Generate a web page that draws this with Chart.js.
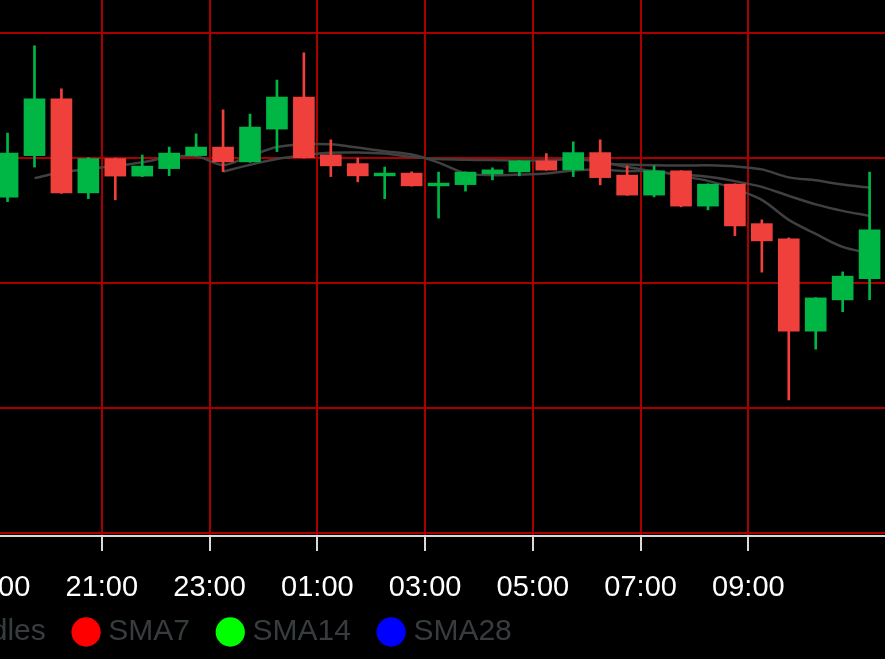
<!DOCTYPE html>
<html>
<head>
<meta charset="utf-8">
<script src="https://cdn.jsdelivr.net/npm/chart.js@4.4.1/dist/chart.umd.min.js"></script>
<style>
html, body { margin:0; padding:0; background:#000; overflow:hidden; width:885px; height:659px; }
#wrap { position:absolute; left:-492px; top:-110px; width:1402px; height:767px; }
</style>
</head>
<body>
<div id="wrap"><canvas id="c"></canvas></div>
<script>
const times = ["19:15","19:45","20:15","20:45","21:15","21:45","22:15","22:45","23:15","23:45",
  "00:15","00:45","01:15","01:45","02:15","02:45","03:15","03:45","04:15","04:45",
  "05:15","05:45","06:15","06:45","07:15","07:45","08:15","08:45","09:15","09:45",
  "10:15","10:45","11:15"];
const opens  = [2434.4,2451.0,2473.7,2436.1,2449.8,2442.8,2445.8,2451.0,2454.4,2448.5,
  2461.6,2474.4,2451.3,2447.8,2442.9,2444.0,2438.9,2439.4,2443.7,2444.5,
  2448.9,2445.3,2452.2,2443.2,2435.2,2444.9,2430.8,2439.6,2423.8,2417.7,
  2380.8,2393.3,2401.8];
const highs  = [2460.0,2494.9,2477.7,2450.2,2450.0,2451.2,2454.4,2459.7,2469.3,2467.6,
  2481.2,2492.1,2457.3,2450.0,2446.4,2444.5,2444.4,2444.5,2446.1,2449.0,
  2451.8,2456.5,2457.3,2446.9,2446.9,2445.0,2439.7,2439.7,2425.3,2418.1,
  2394.2,2404.5,2444.4];
const lows   = [2432.6,2446.4,2435.9,2433.8,2433.3,2442.6,2443.0,2450.8,2444.6,2448.3,
  2452.6,2450.0,2442.6,2440.5,2433.8,2438.8,2426.0,2436.8,2441.3,2442.9,
  2445.1,2442.6,2439.3,2435.1,2434.5,2430.5,2429.3,2419.0,2404.4,2353.3,
  2373.6,2388.6,2393.4];
const closes = [2452.0,2473.7,2436.1,2449.8,2442.8,2446.8,2452.0,2454.4,2448.5,2462.4,
  2474.4,2450.2,2446.9,2442.9,2444.0,2438.9,2440.0,2444.4,2445.3,2448.9,
  2445.2,2452.2,2442.2,2435.2,2444.9,2430.8,2439.6,2422.9,2416.9,2380.8,
  2394.1,2402.8,2421.3];
const sma7  = [null,2442.0,2444.3,2445.7,2446.8,2448.3,2450.3,2450.8,2447.2,2450.9,
  2454.4,2455.5,2455.5,2454.2,2452.7,2451.4,2448.2,2443.9,2443.2,2443.4,
  2443.8,2445.0,2445.4,2444.8,2444.8,2442.8,2440.9,2437.7,2433.3,2425.3,
  2419.7,2414.5,2411.9];
const sma14 = [null,null,null,null,null,null,null,null,2444.6,2447.3,
  2449.6,2451.1,2452.1,2452.2,2451.8,2450.5,2449.6,2449.3,2449.2,2449.0,
  2449.1,2449.5,2448.5,2446.5,2444.7,2443.5,2442.5,2440.8,2438.5,2434.9,
  2431.5,2428.9,2426.9];
const sma28 = [null,null,null,null,null,null,null,null,null,null,
  null,null,null,null,null,null,null,null,null,null,
  null,null,2447.7,2447.4,2447.1,2447.0,2447.1,2446.7,2445.5,2442.3,
  2441.1,2439.4,2438.2];
const xTickLabels = ["13:00","15:00","17:00","19:00","21:00","23:00","01:00","03:00","05:00","07:00","09:00"];
const yTicks = [2300,2350,2400,2450,2500,2550];
const legendNames = ["Candles","SMA7","SMA14","SMA28"];
const legendColors = ["#00B746","#ff0000","#00ff00","#0000ff"];

const UP = "#00B746", DOWN = "#EF403C", GRID = "#a80000", AXIS = "#d9d9d9", LINE = "#404040";
const FONT = "'Liberation Sans', Arial, Helvetica, sans-serif";

function toHours(s) {
  const [h, m] = s.split(":").map(Number);
  let v = h + m / 60;
  if (h < 12) v += 24;
  return v;
}
const xs = times.map(toHours);
const xTickValues = xTickLabels.map(toHours);
const candleColor = (ctx) => closes[ctx.dataIndex] >= opens[ctx.dataIndex] ? UP : DOWN;
const series = (arr) => arr.map((v, i) => ({ x: xs[i], y: v })).filter(p => p.y !== null);

new Chart(document.getElementById("c"), {
  type: "bar",
  data: {
    datasets: [
      { label: "Candles", data: xs.map((x, i) => ({ x, y: [opens[i], closes[i]] })),
        backgroundColor: candleColor, borderWidth: 0, barThickness: 21, grouped: false, order: 0 },
      { type: "line", label: "SMA7", data: series(sma7), borderColor: LINE, backgroundColor: legendColors[1],
        borderWidth: 2.5, pointRadius: 0, tension: 0.3, fill: false, order: 1 },
      { type: "line", label: "SMA14", data: series(sma14), borderColor: LINE, backgroundColor: legendColors[2],
        borderWidth: 2.5, pointRadius: 0, tension: 0.3, fill: false, order: 1 },
      { type: "line", label: "SMA28", data: series(sma28), borderColor: LINE, backgroundColor: legendColors[3],
        borderWidth: 2.5, pointRadius: 0, tension: 0.3, fill: false, order: 1 },
      { label: "Wicks", data: xs.map((x, i) => ({ x, y: [lows[i], highs[i]] })),
        backgroundColor: candleColor, borderWidth: 0, barThickness: 2, grouped: false, order: 0 }
    ]
  },
  options: {
    responsive: true,
    maintainAspectRatio: false,
    animation: false,
    events: [],
    layout: { padding: 0 },
    plugins: {
      tooltip: { enabled: false },
      legend: {
        position: "bottom",
        labels: {
          color: "#373d3f",
          font: { size: 30, family: FONT },
          usePointStyle: true,
          pointStyle: "circle",
          boxWidth: 14.5,
          boxHeight: 20.7,
          padding: 33,
          generateLabels(chart) {
            const items = Chart.defaults.plugins.legend.labels.generateLabels(chart);
            return items.filter(it => legendNames.includes(it.text)).map(it => {
              const c = legendColors[legendNames.indexOf(it.text)];
              return Object.assign(it, { fillStyle: c, strokeStyle: c, lineWidth: 0, pointStyle: "circle" });
            });
          }
        }
      }
    },
    scales: {
      x: {
        type: "linear", min: 11.5, max: 36, offset: false,
        grid: { color: GRID, lineWidth: 2, offset: false, drawTicks: true, tickLength: 15, tickColor: AXIS, tickWidth: 2 },
        border: { display: true, color: AXIS, width: 2 },
        ticks: { color: "#ffffff", font: { size: 29, family: FONT }, mirror: true, padding: -69.6, autoSkip: false, maxRotation: 0,
          callback: (v) => { const i = xTickValues.indexOf(v); return i >= 0 ? xTickLabels[i] : ""; } },
        afterBuildTicks: (s) => { s.ticks = xTickValues.map(v => ({ value: v })); },
        afterFit: (s) => { s.height = 48; }
      },
      y: {
        type: "linear", position: "left", min: 2298.9, max: 2550,
        grid: { color: GRID, lineWidth: 2, tickColor: AXIS },
        border: { color: AXIS, width: 2 },
        ticks: { color: "#ffffff", font: { size: 30, family: FONT }, padding: 0 },
        afterBuildTicks: (s) => { s.ticks = yTicks.map(v => ({ value: v })); },
        afterFit: (s) => { s.width = 82; }
      }
    }
  }
});
</script>
</body>
</html>
